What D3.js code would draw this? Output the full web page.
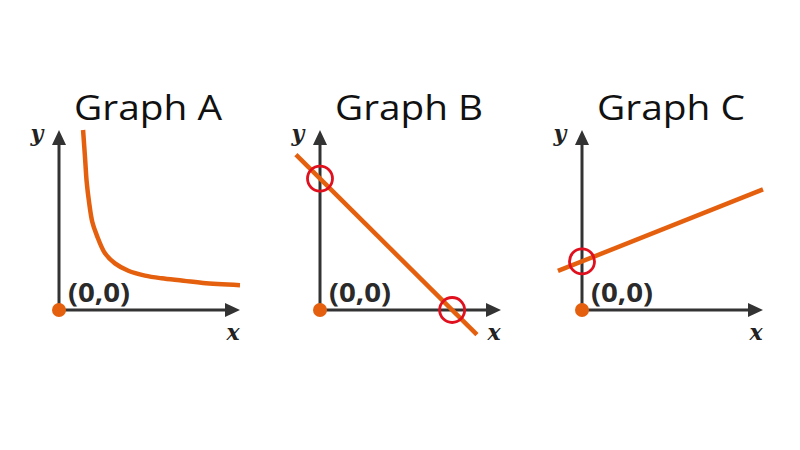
<!DOCTYPE html>
<html>
<head>
<meta charset="utf-8">
<script src="https://cdn.jsdelivr.net/npm/d3@7"></script>
<style>
  html, body { margin: 0; padding: 0; background: #fff; }
  svg { display: block; }
</style>
</head>
<body>
<svg id="chart" width="800" height="450"></svg>
<script>
// ---- Data ----
const titles = ["Graph A", "Graph B", "Graph C"];
const originLabel = "(0,0)";
const xLabel = "x";
const yLabel = "y";

// Graph A: decreasing hyperbola-like curve
const curveAX = [1.33, 1.44, 1.53, 1.66, 1.84, 2.08, 2.54, 3.09, 3.83, 4.75, 5.67, 6.87, 7.96, 10.0];
const curveAY = [10.0, 8.44, 7.11, 6.0, 4.89, 4.17, 3.15, 2.59, 2.18, 1.91, 1.76, 1.63, 1.5, 1.38];

// Graph B: negative-gradient straight line
const lineBX = [-1.33, 8.67];
const lineBY = [8.63, -1.37];
const interceptsBX = [0, 7.3];
const interceptsBY = [7.3, 0];

// Graph C: positive-gradient straight line
const lineCX = [-1.33, 10.0];
const lineCY = [2.17, 6.7];
const interceptsCX = [0];
const interceptsCY = [2.7];

// ---- Layout / style ----
const ORANGE = "#E5600E";
const RED = "#E0101E";
const AXIS = "#333333";
const panelLeft = [59, 320, 582];
const axisLen = 181;
const baseY = 310;
const topY = 130;

const svg = d3.select("#chart");

const series = [
  { x: curveAX, y: curveAY, ix: [], iy: [], curve: d3.curveCatmullRom.alpha(0.5) },
  { x: lineBX, y: lineBY, ix: interceptsBX, iy: interceptsBY, curve: d3.curveLinear },
  { x: lineCX, y: lineCY, ix: interceptsCX, iy: interceptsCY, curve: d3.curveLinear }
];

titles.forEach((title, i) => {
  const left = panelLeft[i];
  const x = d3.scaleLinear().domain([0, 10]).range([left, left + axisLen]);
  const y = d3.scaleLinear().domain([0, 10]).range([baseY, topY]);
  const g = svg.append("g");

  g.append("text")
    .attr("x", x(0) + 89)
    .attr("y", 120)
    .attr("text-anchor", "middle")
    .attr("font-family", "'Open Sans', sans-serif")
    .attr("font-size", 34)
    .attr("textLength", 148)
    .attr("lengthAdjust", "spacingAndGlyphs")
    .attr("fill", "#111")
    .text(title);

  const arrowL = 15, arrowW = 7;
  g.append("line")
    .attr("x1", x(0)).attr("y1", y(0))
    .attr("x2", x(10) - arrowL + 1).attr("y2", y(0))
    .attr("stroke", AXIS).attr("stroke-width", 3);
  g.append("line")
    .attr("x1", x(0)).attr("y1", y(0))
    .attr("x2", x(0)).attr("y2", y(10) + arrowL - 1)
    .attr("stroke", AXIS).attr("stroke-width", 3);
  g.append("path")
    .attr("d", `M${x(10)},${y(0)} L${x(10) - arrowL},${y(0) - arrowW} L${x(10) - arrowL},${y(0) + arrowW} Z`)
    .attr("fill", AXIS);
  g.append("path")
    .attr("d", `M${x(0)},${y(10)} L${x(0) - arrowW},${y(10) + arrowL} L${x(0) + arrowW},${y(10) + arrowL} Z`)
    .attr("fill", AXIS);

  g.append("text")
    .attr("x", x(10) - 7).attr("y", 340)
    .attr("text-anchor", "middle")
    .attr("font-family", "'DejaVu Serif', serif")
    .attr("font-style", "italic").attr("font-weight", "bold")
    .attr("font-size", 22)
    .attr("fill", "#222")
    .text(xLabel);
  g.append("text")
    .attr("x", x(0) - 22).attr("y", 141)
    .attr("text-anchor", "middle")
    .attr("font-family", "'DejaVu Serif', serif")
    .attr("font-style", "italic").attr("font-weight", "bold")
    .attr("font-size", 22)
    .attr("fill", "#222")
    .text(yLabel);

  g.append("text")
    .attr("x", x(0) + 9).attr("y", 302)
    .attr("font-family", "'Open Sans', sans-serif")
    .attr("font-weight", "bold")
    .attr("font-size", 27)
    .attr("textLength", 62)
    .attr("lengthAdjust", "spacingAndGlyphs")
    .attr("fill", "#2a2a2a")
    .text(originLabel);

  const s = series[i];
  const pts = s.x.map((v, k) => [v, s.y[k]]);
  g.append("path")
    .datum(pts)
    .attr("d", d3.line().x(d => x(d[0])).y(d => y(d[1])).curve(s.curve))
    .attr("fill", "none")
    .attr("stroke", ORANGE)
    .attr("stroke-width", 4.5);

  g.append("circle")
    .attr("cx", x(0)).attr("cy", y(0)).attr("r", 7)
    .attr("fill", ORANGE);

  s.ix.forEach((v, k) => {
    g.append("circle")
      .attr("cx", x(v)).attr("cy", y(s.iy[k])).attr("r", 12.5)
      .attr("fill", "none")
      .attr("stroke", RED)
      .attr("stroke-width", 2.8);
  });
});
</script>
</body>
</html>
